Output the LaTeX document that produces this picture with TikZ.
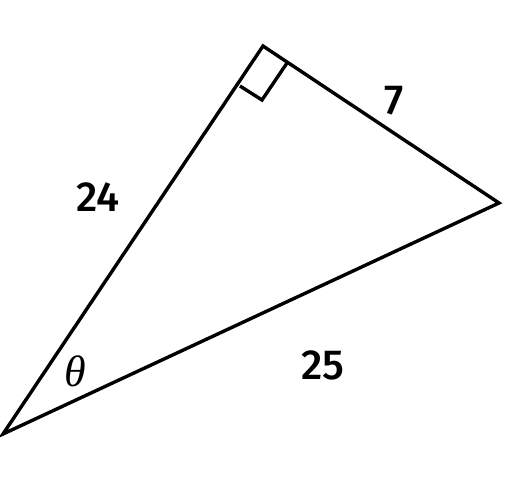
\documentclass[tikz,border=0pt]{standalone}
\usepackage{fontspec}
\setmainfont{Fira Sans}[UprightFont=* Medium]
\newfontfamily\thetafont{Liberation Serif}
\begin{document}
\begin{tikzpicture}[x=1pt,y=-1pt,
  side/.style={line width=3.4pt,line join=miter},
  lbl/.style={font=\fontsize{42}{42}\selectfont,inner sep=0pt}]
\useasboundingbox (0,0) rectangle (521,482);
\coordinate (A) at (3,434);
\coordinate (B) at (263,46);
\coordinate (C) at (499,203);
\draw[side] (A) -- (B) -- (C) -- cycle;
\coordinate (P) at (240,86);
\coordinate (Q) at (262,100);
\coordinate (R) at (287,63);
\draw[side] (P) -- (Q) -- (R);
\node[lbl] (l24) at (98,197) {24};
\node[lbl] (l25) at (323,365) {25};
\node[lbl] (l7) at (394,101) {7};
\node[inner sep=0pt,font=\fontsize{44}{44}\selectfont\thetafont\itshape] (th) at (75,371) {θ};
\end{tikzpicture}
\end{document}
